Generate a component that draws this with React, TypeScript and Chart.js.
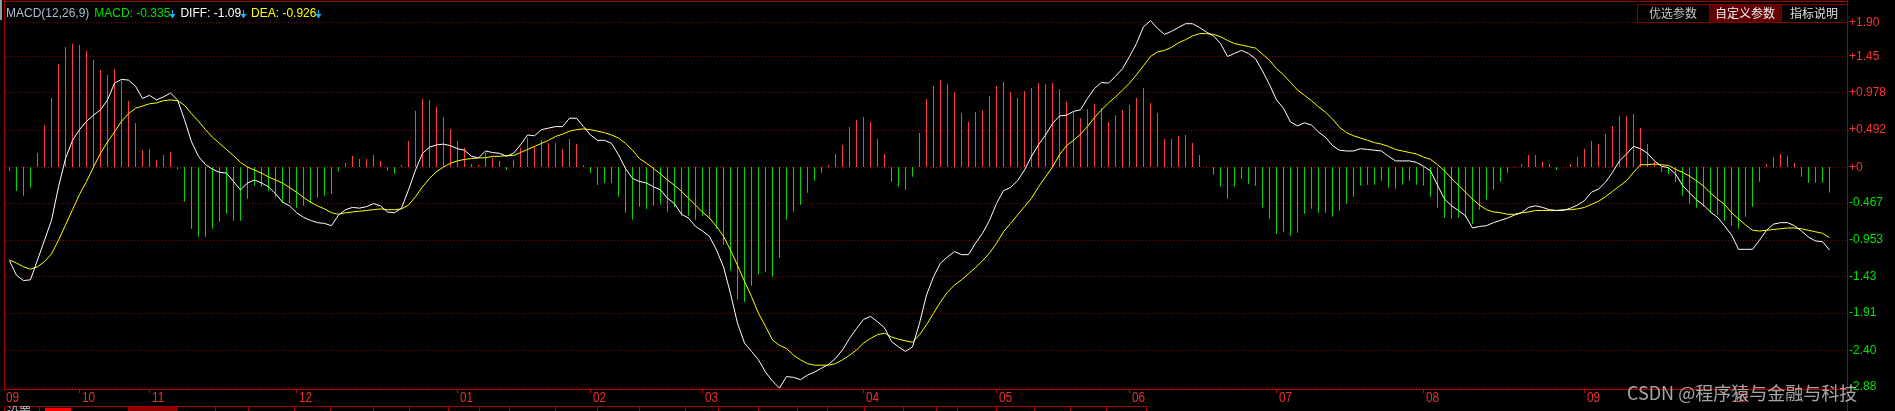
import React, { useEffect, useRef } from 'react';
import { Chart, registerables } from 'chart.js';

Chart.register(...registerables);

// ---- data ----
const macdBars: number[] = [
  -0.05, -0.315, -0.376, -0.271, 0.184, 0.551, 0.905, 1.351, 1.574, 1.614,
  1.6, 1.522, 1.404, 1.273, 1.207, 1.286, 1.133, 0.866, 0.577, 0.223,
  0.236, 0.092, 0.157, 0.197, -0.03, -0.455, -0.809, -0.914, -0.914, -0.809,
  -0.717, -0.612, -0.704, -0.704, -0.415, -0.245, -0.258, -0.31, -0.398, -0.477,
  -0.477, -0.534, -0.507, -0.477, -0.402, -0.376, -0.35, -0.06, 0.052, 0.144,
  0.105, 0.105, 0.157, 0.079, -0.048, -0.087,
  0.026, 0.341, 0.739, 0.892, 0.879, 0.792, 0.652, 0.499, 0.341, 0.254,
  0.039, 0.026, 0.188, 0.122, 0.079, -0.039, 0.096, 0.254, 0.385, 0.271,
  0.354, 0.315, 0.315, 0.236, 0.367, 0.306, 0.026, -0.079, -0.236, -0.21,
  -0.21, -0.389, -0.599, -0.691, -0.52, -0.551, -0.507, -0.494, -0.586, -0.525,
  -0.639, -0.639, -0.691, -0.639, -0.682, -0.809, -1.019, -1.36, -1.736, -1.767,
  -1.557, -1.413, -1.378, -1.439, -1.189, -0.691, -0.586,
  -0.494, -0.337, -0.179, -0.074, 0.026, 0.171, 0.289, 0.525, 0.617, 0.656,
  0.59, 0.367, 0.171, -0.192, -0.258, -0.297, -0.127, 0.446, 0.892, 1.063,
  1.141, 1.089, 0.984, 0.708, 0.59, 0.722, 0.748, 0.931, 1.063, 1.115,
  0.984, 0.905, 0.997, 1.036, 1.102, 1.089, 1.102, 1.019, 0.857, 0.722,
  0.643, 0.761, 0.827, 0.774, 0.59, 0.678, 0.748, 0.813, 0.905, 1.036,
  0.84, 0.708, 0.367, 0.367, 0.407,
  0.42, 0.315, 0.157, 0.005, -0.101, -0.258, -0.415, -0.258, -0.153, -0.219,
  -0.245, -0.534, -0.678, -0.875, -0.848, -0.901, -0.861, -0.612, -0.547, -0.599,
  -0.599, -0.652, -0.573, -0.481, -0.389, -0.245, -0.232, -0.232, -0.179, -0.271,
  -0.284, -0.232, -0.179, -0.232, -0.245, -0.389, -0.534, -0.665, -0.678, -0.665,
  -0.665, -0.743, -0.56, -0.429, -0.297, -0.192, -0.074, 0.013, 0.039, 0.157,
  0.157, 0.066, 0.039, -0.039,
  0.004, 0.039, 0.131, 0.236, 0.341, 0.302, 0.433, 0.538, 0.669, 0.669,
  0.695, 0.512, 0.302, 0.066, -0.066, -0.092, -0.197, -0.376, -0.481, -0.534,
  -0.52, -0.599, -0.625, -0.704, -0.77, -0.809, -0.652, -0.52, -0.192, 0.039,
  0.131, 0.171, 0.144, 0.052, -0.127, -0.206, -0.206, -0.206, -0.335,
];

const diffLine: number[] = [
  -1.23, -1.42, -1.49, -1.48, -1.22, -0.96, -0.7, -0.26, 0.11, 0.35,
  0.49, 0.6, 0.68, 0.75, 0.88, 1.1, 1.15, 1.14, 1.06, 0.9,
  0.94, 0.88, 0.92, 0.97, 0.88, 0.62, 0.33, 0.14, 0.03, -0.03,
  -0.07, -0.08, -0.19, -0.3, -0.21, -0.17, -0.21, -0.26, -0.35, -0.46,
  -0.51, -0.6, -0.66, -0.7, -0.73, -0.74, -0.77, -0.63, -0.56, -0.53,
  -0.54, -0.52, -0.48, -0.51, -0.59, -0.6,
  -0.54, -0.3, -0.04, 0.18, 0.26, 0.29, 0.3, 0.28, 0.24, 0.22,
  0.14, 0.12, 0.21, 0.19, 0.18, 0.14, 0.18, 0.29, 0.42, 0.41,
  0.49, 0.51, 0.53, 0.53, 0.64, 0.64, 0.53, 0.42, 0.35, 0.35,
  0.31, 0.16, -0.02, -0.15, -0.19, -0.21, -0.26, -0.3, -0.41, -0.48,
  -0.62, -0.67, -0.78, -0.84, -0.91, -1.09, -1.31, -1.66, -2.05, -2.31,
  -2.42, -2.53, -2.69, -2.81, -2.9,
  -2.75, -2.76, -2.79, -2.73, -2.69, -2.64, -2.59, -2.51, -2.4, -2.25,
  -2.12, -2.0, -1.96, -2.03, -2.11, -2.29, -2.36, -2.42, -2.36, -2.05,
  -1.68, -1.44, -1.26, -1.18, -1.11, -1.15, -1.15, -1.0, -0.87, -0.7,
  -0.48, -0.31, -0.27, -0.18, -0.04, 0.14, 0.29, 0.42, 0.57, 0.67,
  0.68, 0.73, 0.75, 0.9, 1.03, 1.11, 1.1, 1.19, 1.29, 1.45,
  1.62, 1.84, 1.92, 1.82,
  1.74, 1.78, 1.83, 1.88, 1.88, 1.83, 1.77, 1.72, 1.62, 1.45,
  1.49, 1.53, 1.49, 1.42, 1.26, 1.08, 0.88, 0.77, 0.59, 0.54,
  0.58, 0.55, 0.46, 0.39, 0.28, 0.22, 0.21, 0.21, 0.24, 0.23,
  0.22, 0.21, 0.14, 0.08, 0.08, 0.08, 0.06, 0.01, -0.05, -0.24,
  -0.42, -0.51, -0.57, -0.64, -0.8, -0.78, -0.77, -0.73, -0.7, -0.67,
  -0.63, -0.6, -0.53, -0.51, -0.53, -0.56, -0.57,
  -0.57, -0.54, -0.5, -0.44, -0.33, -0.29, -0.2, -0.07, 0.08, 0.17,
  0.27, 0.24, 0.18, 0.08, 0.01, -0.01, -0.09, -0.24, -0.34, -0.43,
  -0.5, -0.59, -0.66, -0.77, -0.89, -1.08, -1.08, -1.08, -0.96, -0.83,
  -0.75, -0.73, -0.73, -0.77, -0.84, -0.92, -0.97, -0.98, -1.09,
];

const deaLine: number[] = [
  -1.22, -1.26, -1.31, -1.34, -1.31, -1.24, -1.14, -0.96, -0.76, -0.56,
  -0.36, -0.19, 0.0, 0.18, 0.33, 0.46, 0.6, 0.7, 0.77, 0.8,
  0.83, 0.84, 0.87, 0.88, 0.87, 0.81, 0.7, 0.6, 0.49, 0.39,
  0.31, 0.23, 0.15, 0.06, 0.0, -0.04, -0.08, -0.13, -0.17, -0.21,
  -0.27, -0.33, -0.4, -0.46, -0.51, -0.55, -0.6, -0.62, -0.6, -0.59,
  -0.58, -0.57, -0.56, -0.55, -0.56, -0.56,
  -0.55, -0.5, -0.39, -0.26, -0.15, -0.06, 0.0, 0.05, 0.08, 0.1,
  0.11, 0.12, 0.12, 0.14, 0.14, 0.15, 0.15, 0.19, 0.23, 0.27,
  0.31, 0.35, 0.4, 0.43, 0.47, 0.49, 0.5, 0.49, 0.47, 0.45,
  0.42, 0.38, 0.31, 0.22, 0.11, 0.05, -0.02, -0.09, -0.17, -0.24,
  -0.32, -0.41, -0.5, -0.59, -0.67, -0.78, -0.91, -1.09, -1.29, -1.5,
  -1.7, -1.92, -2.09, -2.27, -2.34,
  -2.38, -2.47, -2.53, -2.58, -2.6, -2.6, -2.6, -2.58, -2.53, -2.47,
  -2.4, -2.31, -2.25, -2.2, -2.18, -2.23, -2.26, -2.28, -2.3, -2.2,
  -2.07, -1.92, -1.77, -1.64, -1.55, -1.48, -1.4, -1.32, -1.23, -1.13,
  -1.0, -0.85, -0.74, -0.63, -0.52, -0.41, -0.26, -0.13, 0.0, 0.16,
  0.28, 0.35, 0.43, 0.53, 0.65, 0.75, 0.84, 0.92, 1.01, 1.1,
  1.21, 1.33, 1.45, 1.51,
  1.53, 1.57, 1.63, 1.67, 1.72, 1.75, 1.75, 1.74, 1.71, 1.66,
  1.62, 1.6, 1.58, 1.56, 1.48, 1.4, 1.29, 1.21, 1.11, 1.01,
  0.94, 0.87, 0.79, 0.72, 0.63, 0.52, 0.45, 0.41, 0.38, 0.35,
  0.32, 0.3, 0.27, 0.23, 0.21, 0.19, 0.17, 0.13, 0.1, 0.03,
  -0.05, -0.15, -0.24, -0.33, -0.42, -0.5, -0.56, -0.59, -0.6, -0.62,
  -0.62, -0.6, -0.59, -0.57, -0.57, -0.57, -0.57,
  -0.56, -0.56, -0.55, -0.53, -0.49, -0.45, -0.39, -0.32, -0.25, -0.18,
  -0.07, 0.03, 0.03, 0.04, 0.03, 0.02, -0.03, -0.07, -0.12, -0.18,
  -0.25, -0.34, -0.42, -0.49, -0.6, -0.68, -0.76, -0.83, -0.84, -0.83,
  -0.82, -0.81, -0.8, -0.8, -0.81, -0.83, -0.85, -0.87, -0.926,
];

const monthLabels: string[] = ['09', '10', '11', '12', '01', '02', '03', '04', '05', '06', '07', '08', '09', '10'];
const monthIndex: number[] = [0, 10, 20, 41, 64, 83, 99, 122, 141, 160, 181, 202, 225, 246];

const yTickValues: number[] = [1.9, 1.45, 0.978, 0.492, 0, -0.467, -0.953, -1.43, -1.91, -2.4, -2.88];
const yTickLabels: string[] = ['+1.90', '+1.45', '+0.978', '+0.492', '+0', '-0.467', '-0.953', '-1.43', '-1.91', '-2.40', '-2.88'];

const buttonLabels: string[] = ['优选参数', '自定义参数', '指标说明'];
const watermark = 'CSDN @程序猿与金融与科技';

const RED = '#ff3c3c';
const GREEN = '#00d800';
const LATIN = '"Liberation Sans", Arial, sans-serif';
const CJK = '"Noto Sans CJK SC", sans-serif';

function hline(ctx: CanvasRenderingContext2D, x1: number, x2: number, y: number) {
  ctx.beginPath();
  ctx.moveTo(x1, y);
  ctx.lineTo(x2, y);
  ctx.stroke();
}
function vline(ctx: CanvasRenderingContext2D, x: number, y1: number, y2: number) {
  ctx.beginPath();
  ctx.moveTo(x, y1);
  ctx.lineTo(x, y2);
  ctx.stroke();
}

const decor = {
  id: 'decor',
  beforeDatasetsDraw(chart: any) {
    const { ctx, chartArea: a } = chart;
    const y = chart.scales.y;
    ctx.save();
    ctx.strokeStyle = '#8c0000';
    ctx.lineWidth = 1;
    ctx.setLineDash([1, 2]);
    yTickValues.forEach((v) => {
      const py = Math.round(y.getPixelForValue(v)) + 0.5;
      hline(ctx, a.left + 1, a.right - 1, py);
    });
    ctx.restore();
  },
  afterDraw(chart: any) {
    const { ctx, chartArea: a } = chart;
    const x = chart.scales.x;
    const y = chart.scales.y;
    ctx.save();
    ctx.setLineDash([]);
    ctx.lineWidth = 1;

    // frame
    ctx.strokeStyle = '#a00000';
    vline(ctx, a.left - 0.5, 0, a.bottom);
    vline(ctx, a.right + 0.5, 0, 411);
    hline(ctx, a.left - 1, a.right, a.top - 0.5);
    ctx.strokeStyle = '#c00000';
    hline(ctx, a.left - 1, a.right, a.bottom + 0.5);

    // scroll stub top-left
    ctx.fillStyle = '#9a9a9a';
    ctx.fillRect(0, 0, 2, 20);

    // x axis month labels
    ctx.fillStyle = '#e83030';
    ctx.strokeStyle = '#c00000';
    ctx.font = '14px ' + LATIN;
    ctx.textBaseline = 'alphabetic';
    ctx.textAlign = 'left';
    monthLabels.forEach((lab, k) => {
      const px = x.getPixelForValue(monthIndex[k]);
      let tx = px + 2.5;
      if (k === 0) {
        tx = a.left + 1;
      } else {
        vline(ctx, px, a.bottom + 1, a.bottom + 4);
      }
      ctx.save();
      ctx.translate(tx, 402);
      ctx.scale(0.84, 1);
      ctx.fillText(lab, 0, 0);
      ctx.restore();
    });

    // right axis labels
    ctx.font = '12px ' + LATIN;
    ctx.textBaseline = 'middle';
    yTickValues.forEach((v, k) => {
      ctx.fillStyle = v >= 0 ? '#ff3232' : '#00e000';
      ctx.fillText(yTickLabels[k], a.right + 2, y.getPixelForValue(v) + 0.5);
    });

    // legend
    ctx.font = '12px ' + LATIN;
    ctx.textBaseline = 'alphabetic';
    const ly = 17;
    let cx = 6;
    const seg = (t: string, c: string) => {
      ctx.fillStyle = c;
      ctx.fillText(t, cx, ly);
      cx += ctx.measureText(t).width;
    };
    const arrow = () => {
      ctx.strokeStyle = '#1ab4f0';
      ctx.fillStyle = '#1ab4f0';
      const ax = Math.round(cx) + 2.5;
      vline(ctx, ax, 10, 16);
      ctx.beginPath();
      ctx.moveTo(ax - 3, 14);
      ctx.lineTo(ax + 3, 14);
      ctx.lineTo(ax, 18.5);
      ctx.closePath();
      ctx.fill();
      cx += 10;
    };
    const last = macdBars.length - 1;
    seg('MACD(12,26,9)', '#b0bcd0');
    cx += 5;
    seg('MACD: ' + macdBars[last].toFixed(3), '#00e000');
    arrow();
    seg('DIFF: ' + diffLine[last].toPrecision(3), '#ffffff');
    arrow();
    seg('DEA: ' + deaLine[last].toPrecision(3), '#ffff00');
    arrow();

    // buttons top-right
    const bx = [1637, 1709, 1781, a.right];
    ctx.font = '12px ' + CJK;
    ctx.textAlign = 'center';
    ctx.textBaseline = 'middle';
    buttonLabels.forEach((lab, k) => {
      const x0 = bx[k];
      const x1 = bx[k + 1];
      if (k === 1) {
        ctx.fillStyle = '#600000';
        ctx.fillRect(x0, 4, x1 - x0, 18);
      }
      ctx.strokeStyle = '#800000';
      ctx.strokeRect(x0 + 0.5, 4.5, x1 - x0, 18);
      ctx.fillStyle = k === 0 ? '#c4c4c4' : k === 1 ? '#f4f4f4' : '#e0e0e0';
      ctx.fillText(lab, (x0 + x1) / 2, 13.5);
    });

    // bottom tab strip
    ctx.strokeStyle = '#a00000';
    hline(ctx, 4, 1146, 406.5);
    const seps = [39, 128, 176, 215, 248, 294, 330, 373, 409, 448, 479, 509, 555, 597, 639, 685, 718, 758, 797, 827, 864, 903, 936, 957, 996, 1034, 1070, 1106, 1146];
    seps.forEach((sx) => vline(ctx, sx + 0.5, 406, 411));
    vline(ctx, 4.5, 406, 411);
    ctx.fillStyle = '#ff0000';
    ctx.fillRect(45, 408, 26, 3);
    ctx.fillStyle = '#8b0000';
    ctx.fillRect(129, 407, 47, 4);
    ctx.fillStyle = '#c0c0c0';
    ctx.font = '12px ' + CJK;
    ctx.textAlign = 'left';
    ctx.textBaseline = 'top';
    ctx.fillText('设置', 7, 406);

    // watermark
    ctx.font = '18px ' + CJK;
    ctx.textAlign = 'left';
    ctx.textBaseline = 'middle';
    ctx.fillStyle = 'rgba(195,195,195,0.85)';
    ctx.fillText(watermark, 1627, 393);

    ctx.restore();
  },
};

export default function App() {
  const ref = useRef<HTMLCanvasElement | null>(null);

  useEffect(() => {
    document.body.style.margin = '0';
    document.body.style.background = '#000';
    const canvas = ref.current;
    if (!canvas) return;
    const pts = (arr: number[]) => arr.map((v, i) => ({ x: i, y: v }));
    const chart = new Chart(canvas, {
      type: 'bar',
      data: {
        datasets: [
          {
            type: 'line',
            label: 'DIFF',
            data: pts(diffLine),
            borderColor: '#ffffff',
            borderWidth: 1,
            pointRadius: 0,
            tension: 0,
            fill: false,
            order: 1,
          } as any,
          {
            type: 'line',
            label: 'DEA',
            data: pts(deaLine),
            borderColor: '#ffff00',
            borderWidth: 1,
            pointRadius: 0,
            tension: 0,
            fill: false,
            order: 2,
          } as any,
          {
            type: 'bar',
            label: 'MACD',
            data: pts(macdBars),
            backgroundColor: macdBars.map((v) => (v >= 0 ? RED : GREEN)),
            barThickness: 1,
            inflateAmount: 0,
            borderWidth: 0,
            order: 3,
          } as any,
        ],
      },
      options: {
        animation: false,
        responsive: false,
        maintainAspectRatio: false,
        devicePixelRatio: 1,
        events: [],
        layout: { padding: { left: 5, right: 48, top: 2, bottom: 22 } },
        plugins: { legend: { display: false }, tooltip: { enabled: false } },
        scales: {
          x: {
            type: 'linear',
            display: false,
            offset: false,
            bounds: 'ticks',
            grace: 0,
            min: -0.642857,
            max: 262.5,
            grid: { offset: false },
          },
          y: { type: 'linear', display: false, min: -2.9126, max: 2.1648, grace: 0 },
        },
      } as any,
      plugins: [decor],
    });
    return () => chart.destroy();
  }, []);

  return (
    <div style={{ position: 'fixed', left: 0, top: 0, width: 1895, height: 411, background: '#000' }}>
      <canvas ref={ref} width={1895} height={411} style={{ display: 'block', width: 1895, height: 411 }} />
    </div>
  );
}
